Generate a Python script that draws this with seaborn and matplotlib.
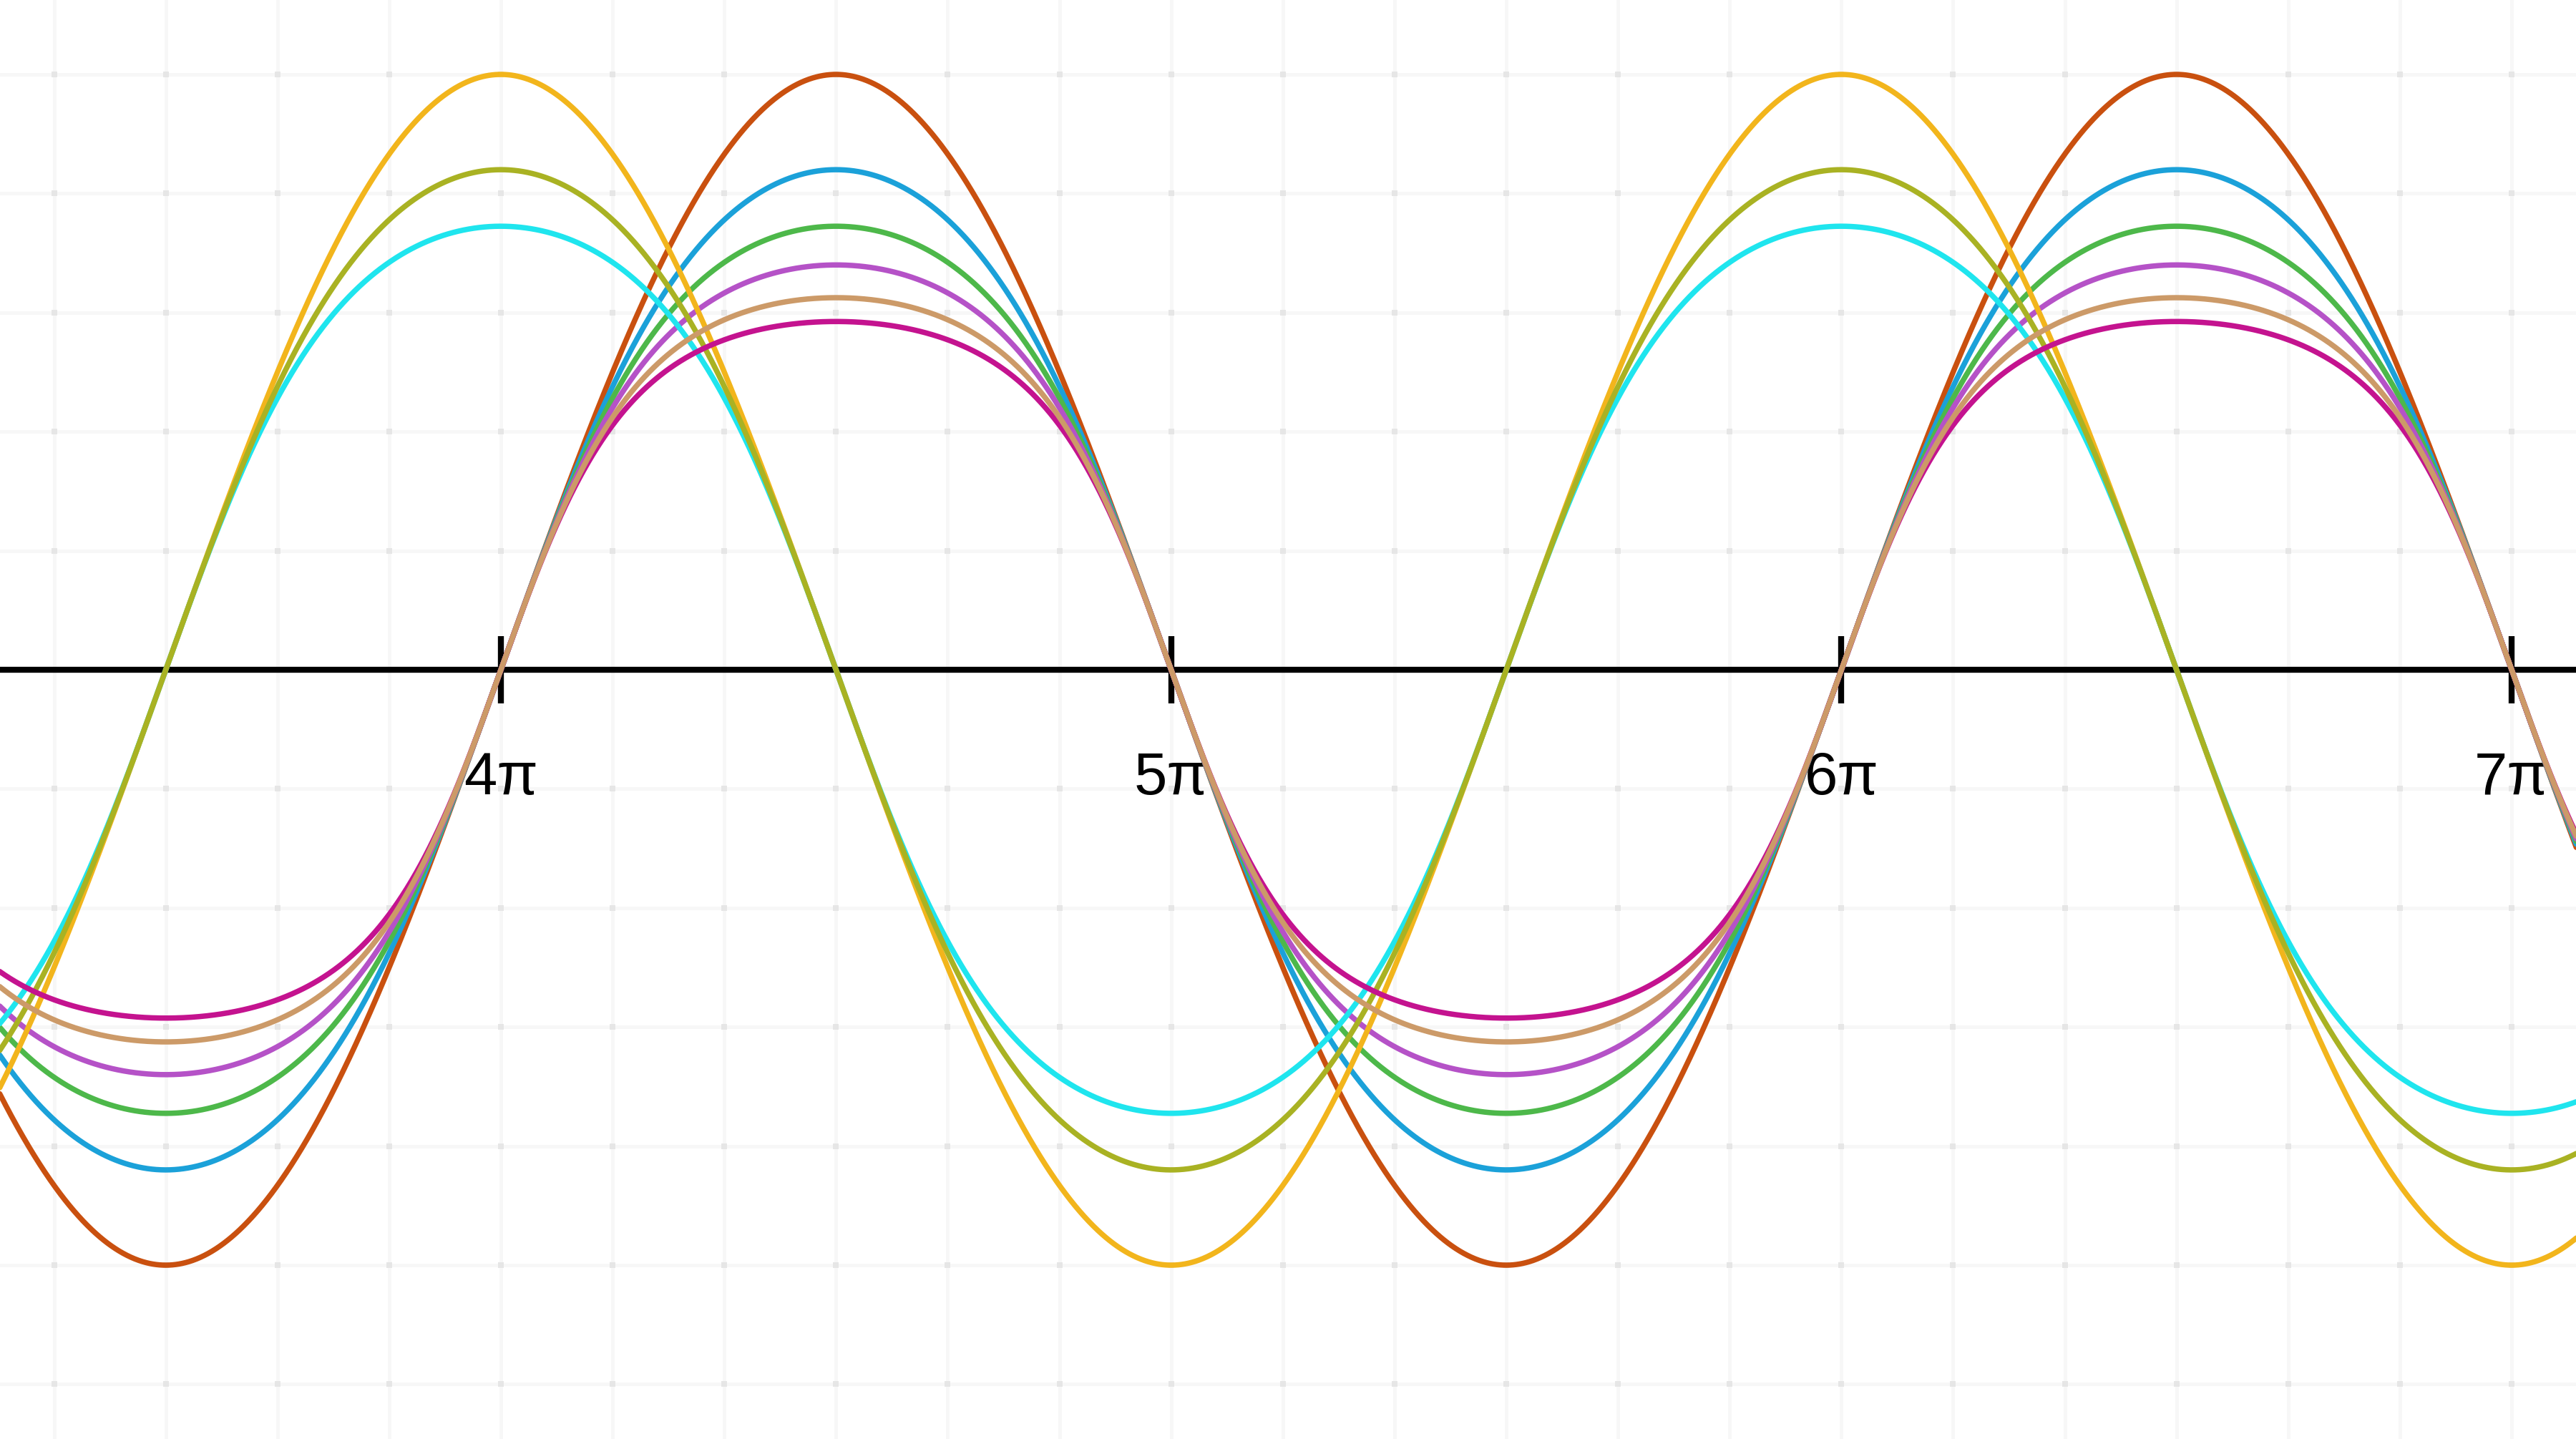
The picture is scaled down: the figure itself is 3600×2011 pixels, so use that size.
import numpy as np
import pandas as pd
import matplotlib
matplotlib.use("Agg")
import matplotlib.pyplot as plt
import seaborn as sns

# ---- data ----
# curves in phase with sin(x): peak heights (units of the y axis)
sine_names = ["red", "blue", "green", "purple", "tan", "magenta"]
sine_peaks = [1.0, 0.84, 0.745, 0.68, 0.625, 0.585]
sine_colors = ["#c9500f", "#1ba1d9", "#4db84a", "#b552c7", "#cc9a68", "#c4138f"]

# curves in phase with cos(x): peak heights
cos_names = ["yellow", "olive", "cyan"]
cos_peaks = [1.0, 0.84, 0.745]
cos_colors = ["#f2b51c", "#a9b223", "#1fe5ee"]

tick_multiples = [4, 5, 6, 7]
tick_labels = ["4π", "5π", "6π", "7π"]

# visible window
x_min, x_max = 3.2527 * np.pi, 7.096 * np.pi
y_min, y_max = -1.292, 1.125

draw_order = ["red", "blue", "green", "purple", "yellow", "cyan", "olive", "magenta", "tan"]


def shaped(s, peak):
    # same slope at the zero crossings, flattened top with the given peak height
    k = 1.0 / peak ** 2 - 1.0
    return s / np.sqrt(1.0 + k * s ** 2)


xs = np.linspace(x_min - 0.05, x_max + 0.05, 4000)
frames = []
for name, pk in zip(sine_names, sine_peaks):
    frames.append(pd.DataFrame({"x": xs, "y": shaped(np.sin(xs), pk), "curve": name}))
for name, pk in zip(cos_names, cos_peaks):
    frames.append(pd.DataFrame({"x": xs, "y": shaped(np.cos(xs), pk), "curve": name}))
df = pd.concat(frames, ignore_index=True)

palette = dict(zip(sine_names + cos_names, sine_colors + cos_colors))

sns.set_theme(style="white")
fig = plt.figure(figsize=(36, 20.11), dpi=100)
ax = fig.add_axes([0, 0, 1, 1])
ax.set_facecolor("white")

# background graph-paper grid
gx = 4 * np.pi + np.arange(-6, 20) * np.pi / 6
gy = np.arange(-7, 7) * 0.2
for v in gx:
    ax.axvline(v, color="#f7f7f7", lw=3.5, zorder=0)
for v in gy:
    ax.axhline(v, color="#f7f7f7", lw=3.5, zorder=0)
GX, GY = np.meshgrid(gx, gy)
ax.scatter(GX.ravel(), GY.ravel(), marker="s", s=30, color="#e6e6e6", linewidths=0, zorder=0.5)

# x axis with tick marks at multiples of pi
ax.axhline(0, color="black", lw=6, zorder=1)
for m, lab in zip(tick_multiples, tick_labels):
    ax.plot([m * np.pi, m * np.pi], [-0.057, 0.057], color="black", lw=6,
            solid_capstyle="butt", zorder=1)
    ax.text(m * np.pi, -0.209, lab, ha="center", va="baseline", fontsize=60,
            family=["Liberation Sans", "DejaVu Sans"], color="black", zorder=1.5)

sns.lineplot(data=df, x="x", y="y", hue="curve", hue_order=draw_order,
             palette=palette, estimator=None, legend=False, linewidth=5.4, ax=ax)

ax.set_xlim(x_min, x_max)
ax.set_ylim(y_min, y_max)
ax.set_axis_off()

fig.savefig("out.png", dpi=100, facecolor="white")
